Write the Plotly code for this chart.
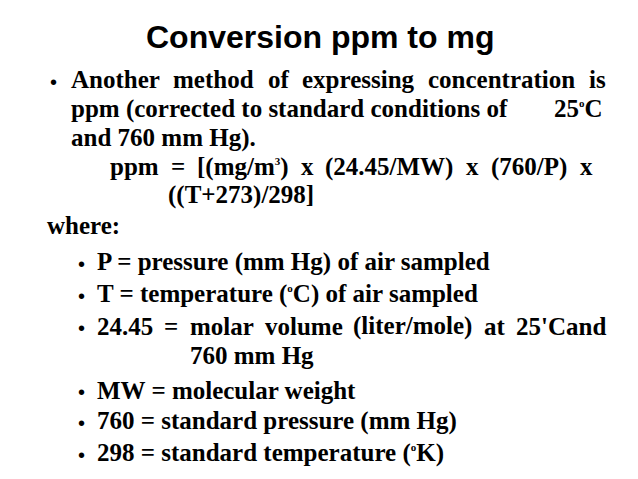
import plotly.graph_objects as go

# page size and the browser's default 8px body margin
W, H = 638, 479
M = 8
FW, FH = W - M, H - M

TITLE = "Conversion ppm to mg"
SERIF = "Times New Roman, Liberation Serif, Tinos, DejaVu Serif, serif"
SANS = "Arial, Liberation Sans, sans-serif"
SUP_O = "<sup><span style='font-size:11px'>o</span></sup>"
SUP_3 = "<sup><span style='font-size:11px'>3</span></sup>"

# justified first line: words and left edges (px)
line1_words = ["Another", "method", "of", "expressing", "concentration", "is"]
line1_x = [69, 171, 266, 300, 426, 587]

para_lines = [
    ("ppm (corrected to standard conditions of", 69, 109, "left"),
    ("25" + SUP_O + "C", 605, 109, "right"),
    ("and 760 mm Hg).", 69, 138, "left"),
]

formula_words = ["ppm", "=", "[(mg/m" + SUP_3 + ")", "x", "(24.45/MW)", "x", "(760/P)", "x"]
formula_x = [108, 169, 195, 299, 323, 464, 489, 578]
formula_line2 = ("((T+273)/298]", 166, 195)

where_text = ("where:", 45, 225)

sub_items = [
    ("P = pressure (mm Hg) of air sampled", 262),
    ("T = temperature (" + SUP_O + "C) of air sampled", 294),
    (None, 326),
    ("MW = molecular weight", 390),
    ("760 = standard pressure (mm Hg)", 421),
    ("298 = standard temperature (" + SUP_O + "K)", 453),
]
molar_words = ["24.45", "=", "molar", "volume", "(liter/mole)", "at", "25'Cand"]
molar_x = [95, 162, 188, 263, 351, 482, 514]
molar_cont = ("760 mm Hg", 188, 355)

FS = 25
DY = 0
ann = []


def px(x):
    return (x - M) / FW


def py(y):
    return 1 - (y - M + DY) / FH


def add(text, x, y, anchor="left", size=FS, family=SERIF, bold=True):
    t = f"<b>{text}</b>" if bold else text
    ann.append(dict(text=t, x=px(x), y=py(y), xref="paper", yref="paper",
                    xanchor=anchor, yanchor="middle", showarrow=False,
                    font=dict(family=family, size=size, color="black")))


add(TITLE, 320, 37, "center", size=32, family=SANS)

y1 = 80
add("•", 53, y1 + 2, "center", size=20, family=SANS, bold=False)
for w, x in zip(line1_words, line1_x):
    add(w, x, y1)
for t, x, y, a in para_lines:
    add(t, x, y, a)
for w, x in zip(formula_words, formula_x):
    add(w, x, 167)
add(formula_line2[0], formula_line2[1], formula_line2[2])
add(where_text[0], where_text[1], where_text[2])

for text, y in sub_items:
    add("•", 81, y + 2, "center", size=20, family=SANS, bold=False)
    if text is None:
        for w, x in zip(molar_words, molar_x):
            add(w, x, y)
    else:
        add(text, 95, y)
add(molar_cont[0], molar_cont[1], molar_cont[2])

fig = go.Figure()
fig.update_layout(
    width=FW, height=FH,
    margin=dict(l=0, r=0, t=0, b=0),
    paper_bgcolor="white", plot_bgcolor="white",
    xaxis=dict(visible=False), yaxis=dict(visible=False),
    annotations=ann,
    showlegend=False,
)
fig.write_html("out.html")
